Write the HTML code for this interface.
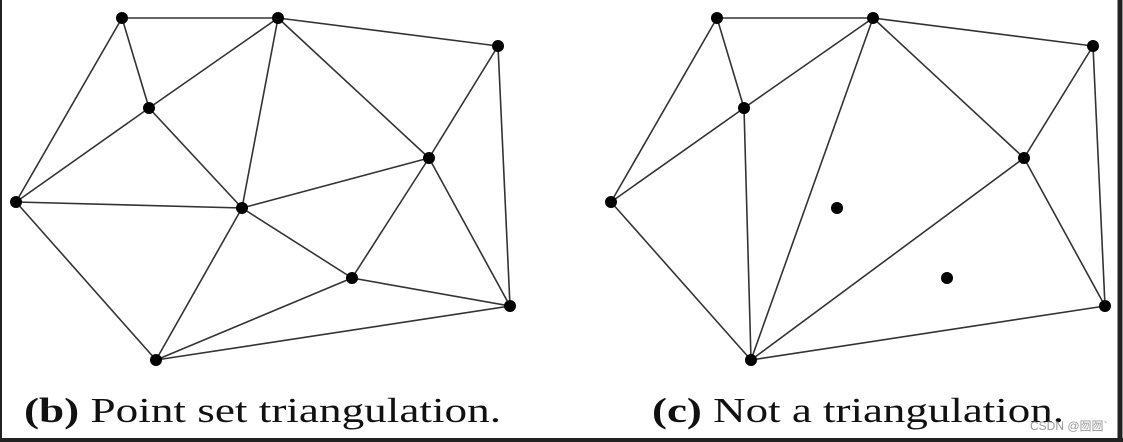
<!DOCTYPE html>
<html><head><meta charset="utf-8"><style>
html,body{margin:0;padding:0;background:#fff;}
body{width:1123px;height:442px;overflow:hidden;position:relative;}
svg{position:absolute;left:0;top:0;}
</style></head><body>
<svg width="1123" height="442" viewBox="0 0 1123 442">
<rect x="0" y="0" width="1123" height="442" fill="#fff"/>
<line x1="1" y1="0" x2="1" y2="442" stroke="#222" stroke-width="2"/>
<line x1="1120" y1="0" x2="1120" y2="442" stroke="#222" stroke-width="5"/>
<line x1="0" y1="440" x2="1123" y2="440" stroke="#222" stroke-width="4"/>
<g stroke="#333" stroke-width="1.6" fill="none">
<path d="M122 18L278 18M278 18L498 46M122 18L16 202M122 18L149 108M278 18L149 108M149 108L16 202M16 202L242 208M149 108L242 208M278 18L242 208M278 18L429 158M498 46L429 158M498 46L510 306M16 202L156 360M242 208L156 360M242 208L429 158M242 208L352 278M352 278L429 158M429 158L510 306M352 278L510 306M156 360L352 278M156 360L510 306"/>
<path d="M717 18L873 18M873 18L1093 46M717 18L611 202M717 18L744 108M873 18L744 108M744 108L611 202M1093 46L1024 158M1093 46L1105 306M873 18L1024 158M873 18L751 360M744 108L751 360M611 202L751 360M1024 158L751 360M1024 158L1105 306M751 360L1105 306"/>
</g>
<g fill="#000">
<circle cx="122" cy="18" r="6"/><circle cx="278" cy="18" r="6"/><circle cx="498" cy="46" r="6"/><circle cx="149" cy="108" r="6"/><circle cx="429" cy="158" r="6"/><circle cx="16" cy="202" r="6"/><circle cx="242" cy="208" r="6"/><circle cx="352" cy="278" r="6"/><circle cx="510" cy="306" r="6"/><circle cx="156" cy="360" r="6"/>
<circle cx="717" cy="18" r="6"/><circle cx="873" cy="18" r="6"/><circle cx="1093" cy="46" r="6"/><circle cx="744" cy="108" r="6"/><circle cx="1024" cy="158" r="6"/><circle cx="611" cy="202" r="6"/><circle cx="837" cy="208" r="6"/><circle cx="947" cy="278" r="6"/><circle cx="1105" cy="306" r="6"/><circle cx="751" cy="360" r="6"/>
</g>
<text x="24" y="422" font-family="Liberation Serif, serif" font-size="35" fill="#111" textLength="477" lengthAdjust="spacingAndGlyphs"><tspan font-weight="bold">(b)</tspan> Point set triangulation.</text>
<text x="652" y="422" font-family="Liberation Serif, serif" font-size="35" fill="#111" textLength="412" lengthAdjust="spacingAndGlyphs"><tspan font-weight="bold">(c)</tspan> Not a triangulation.</text>
<text x="1030" y="430" font-family="Liberation Sans, Noto Sans CJK SC, sans-serif" font-size="12" fill="#999">CSDN @囫囫`</text>
</svg>
</body></html>
